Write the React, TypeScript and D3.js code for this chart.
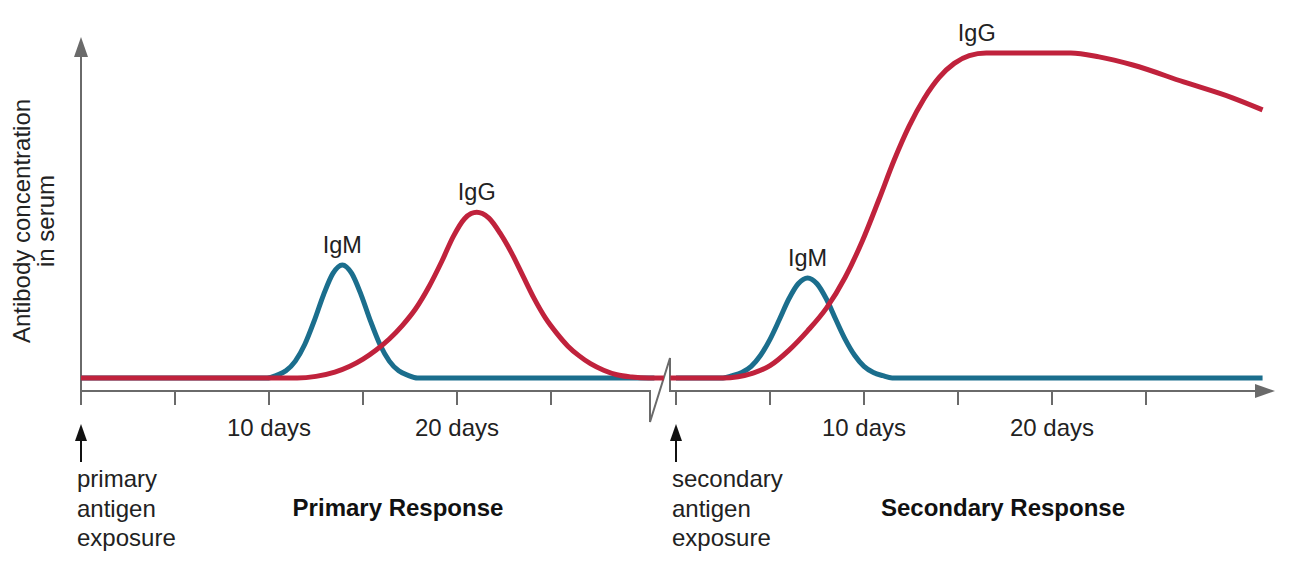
import React from "react";
import * as d3 from "d3";

// antibody levels (arbitrary units, 0 = baseline, 100 = secondary IgG plateau)
const primaryIgM: [number, number][] = [
  [0, 0], [9.9, 0], [10.4, 0.8], [10.9, 2.2], [11.4, 5.2], [11.9, 10.3], [12.4, 17.5],
  [12.9, 25.6], [13.4, 32.2], [13.9, 34.8], [14.4, 32.2], [14.9, 25.6], [15.4, 17.5],
  [15.9, 10.3], [16.4, 5.2], [16.9, 2.2], [17.4, 0.8], [17.9, 0], [30.5, 0],
];
const primaryIgG: [number, number][] = [
  [0, 0], [11.5, 0], [12.5, 0.5], [13.5, 1.8], [14.3, 3.6], [15.0, 5.8], [15.7, 8.6],
  [16.4, 12], [17.1, 16.2], [17.8, 21.3], [18.5, 28], [19.2, 36], [19.8, 43.5],
  [20.4, 49], [20.75, 50.6], [21.05, 51], [21.35, 50.6], [21.7, 49.2], [22.3, 44.5],
  [22.9, 38.5], [23.5, 31.5], [24.1, 24.5], [24.7, 18.5], [25.3, 13.8], [25.9, 9.8],
  [26.5, 6.8], [27.1, 4.4], [27.8, 2.4], [28.5, 1.0], [29.3, 0.3], [30.2, 0], [31, 0],
];
const secondaryIgM: [number, number][] = [
  [0, 0], [2.5, 0], [3.0, 0.7], [3.5, 1.7], [4.0, 3.6], [4.5, 7], [5.0, 11.9],
  [5.5, 18], [6.0, 24.3], [6.5, 29], [7.0, 30.8], [7.5, 29], [8.0, 24.3], [8.5, 18],
  [9.0, 11.9], [9.5, 7], [10.0, 3.6], [10.5, 1.7], [11.0, 0.7], [11.5, 0], [31.2, 0],
];
const secondaryIgG: [number, number][] = [
  [-0.3, 0], [2.5, 0], [3.3, 0.4], [4.1, 1.5], [5.0, 3.8], [6.0, 8.5], [7.0, 14.5],
  [8.0, 21.5], [9.0, 31], [9.9, 42], [10.8, 55], [11.6, 67], [12.4, 77.5], [13.2, 86],
  [14.0, 92.5], [14.8, 96.8], [15.6, 99.2], [16.5, 100], [21.0, 100], [22.5, 98.8],
  [24.3, 96.3], [27.0, 91.1], [29.6, 86.2], [31.2, 82.5],
];

const tickDays = [0, 5, 10, 15, 20, 25];
const labelDays = [10, 20];
const dayLabels = ["10 days", "20 days"];
const peakLabels = [
  { panel: "primary", text: "IgM", day: 13.9, value: 34.8 },
  { panel: "primary", text: "IgG", day: 21.05, value: 51 },
  { panel: "secondary", text: "IgM", day: 7.0, value: 30.8 },
  { panel: "secondary", text: "IgG", day: 16.0, value: 100 },
];
const exposureLines = [
  ["primary", "antigen", "exposure"],
  ["secondary", "antigen", "exposure"],
];
const panelTitles = ["Primary Response", "Secondary Response"];

const W = 1291, H = 570;
const RED = "#c0223c";
const BLUE = "#1b6e8d";
const AXIS = "#6a6a6a";
const FONT = "'Liberation Sans', Arial, Helvetica, sans-serif";

const xPrimary = d3.scaleLinear().domain([0, 30]).range([81, 645]);
const xSecondary = d3.scaleLinear().domain([0, 30]).range([676, 1240]);
const y = d3.scaleLinear().domain([0, 100]).range([378, 53]);
const axisY = 391;

const lineFor = (x: d3.ScaleLinear<number, number>) =>
  d3.line<[number, number]>()
    .x((d) => x(d[0]))
    .y((d) => y(d[1]))
    .curve(d3.curveMonotoneX);

export default function App() {
  const lp = lineFor(xPrimary);
  const ls = lineFor(xSecondary);
  const scales = [xPrimary, xSecondary];

  return (
    <svg width={W} height={H} style={{ position: "absolute", left: 0, top: 0, background: "#fff" }}
      fontFamily={FONT}>
      {/* y axis */}
      <line x1={81} x2={81} y1={405} y2={52} stroke={AXIS} strokeWidth={2} />
      <polygon points="81,37 74,57 88,57" fill={AXIS} />
      <text transform="translate(30,221) rotate(-90)" textAnchor="middle" fontSize={24} fill="#222">
        Antibody concentration
      </text>
      <text transform="translate(54,221) rotate(-90)" textAnchor="middle" fontSize={24} fill="#222">
        in serum
      </text>

      {/* x axis with break */}
      <path d={`M81,${axisY} H650 V422 L670,358 V${axisY} H1258`} fill="none" stroke={AXIS} strokeWidth={2} />
      <polygon points={`1275,${axisY} 1255,${axisY - 7} 1255,${axisY + 7}`} fill={AXIS} />
      {scales.map((x, i) =>
        tickDays.map((d) => (
          <line key={`t${i}-${d}`} x1={x(d)} x2={x(d)} y1={axisY} y2={405} stroke={AXIS} strokeWidth={2} />
        ))
      )}
      {scales.map((x, i) =>
        labelDays.map((d, j) => (
          <text key={`l${i}-${d}`} x={x(d)} y={436} textAnchor="middle" fontSize={24} fill="#222">
            {dayLabels[j]}
          </text>
        ))
      )}

      {/* antibody curves */}
      <path d={lp(primaryIgM) || ""} fill="none" stroke={BLUE} strokeWidth={5} />
      <path d={lp(primaryIgG) || ""} fill="none" stroke={RED} strokeWidth={5} />
      <path d={ls(secondaryIgM) || ""} fill="none" stroke={BLUE} strokeWidth={5} />
      <path d={ls(secondaryIgG) || ""} fill="none" stroke={RED} strokeWidth={5} />

      {peakLabels.map((p, i) => {
        const x = p.panel === "primary" ? xPrimary : xSecondary;
        return (
          <text key={`p${i}`} x={x(p.day)} y={y(p.value) - 12} textAnchor="middle" fontSize={23.5} fill="#222">
            {p.text}
          </text>
        );
      })}

      {/* exposure arrows and notes */}
      {scales.map((x, i) => (
        <g key={`e${i}`}>
          <line x1={x(0)} x2={x(0)} y1={462} y2={436} stroke="#111" strokeWidth={2} />
          <polygon points={`${x(0)},424 ${x(0) - 6},441 ${x(0) + 6},441`} fill="#111" />
          {exposureLines[i].map((s, k) => (
            <text key={k} x={x(0) - 4} y={487 + k * 29.5} fontSize={24} fill="#222">{s}</text>
          ))}
        </g>
      ))}
      {panelTitles.map((t, i) => (
        <text key={t} x={i === 0 ? 398 : 1003} y={516} textAnchor="middle" fontSize={24}
          fontWeight="bold" fill="#111">
          {t}
        </text>
      ))}
    </svg>
  );
}
